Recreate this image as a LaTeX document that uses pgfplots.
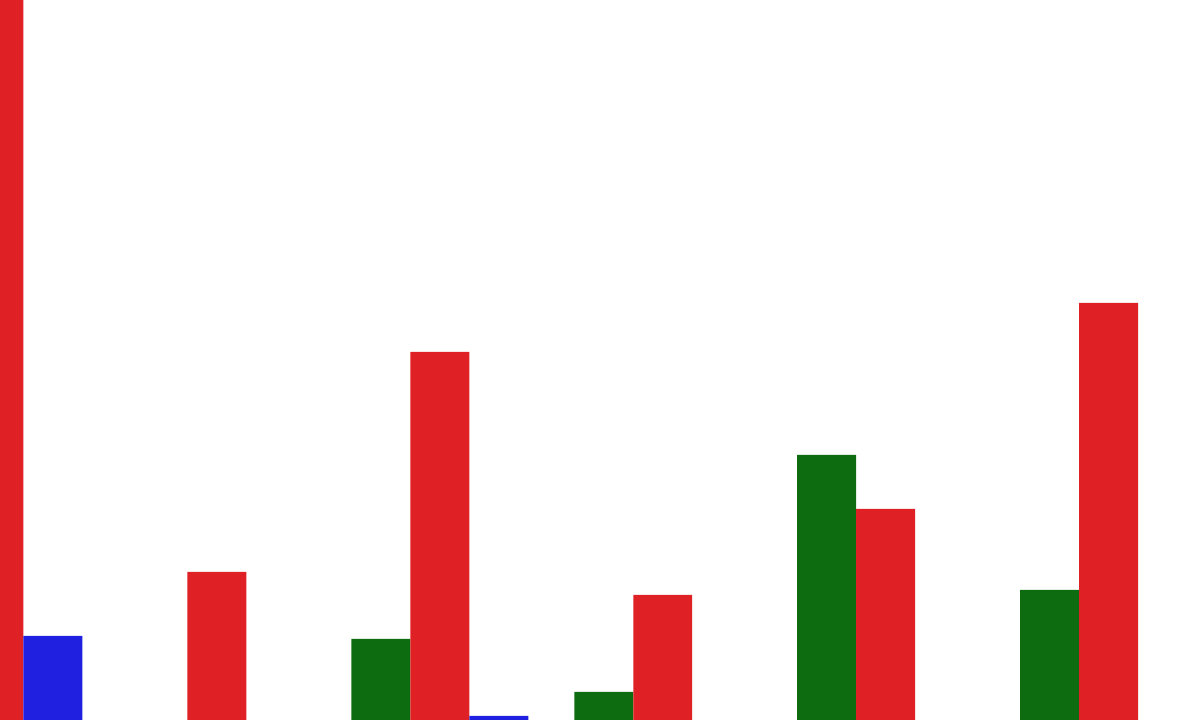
\documentclass[border=0pt]{standalone}
\usepackage{pgfplots}
\pgfplotsset{compat=1.18}
\definecolor{barred}{RGB}{223,32,36}
\definecolor{bargreen}{RGB}{14,108,16}
\definecolor{barblue}{RGB}{32,32,224}
\begin{document}
\begin{tikzpicture}
  \begin{axis}[
      scale only axis,
      width=12cm,
      height=7.2cm,
      hide axis,
      clip=true,
      xmin=0.027, xmax=5.41,
      ymin=0, ymax=72,
      ybar,
      bar width=0.2646,
    ]
    % green series (empty groups left out)
    \addplot[draw=none, fill=bargreen, bar shift=-0.2646]
      coordinates {(2,8.1) (3,2.8) (4,26.5) (5,13.0)};
    % red series
    \addplot[draw=none, fill=barred, bar shift=0]
      coordinates {(0,90) (1,14.8) (2,36.8) (3,12.5) (4,21.1) (5,41.7)};
    % blue series
    \addplot[draw=none, fill=barblue, bar shift=0.2646]
      coordinates {(0,8.4) (2,0.4)};
    \coordinate (bl) at (rel axis cs:0,0);
    \coordinate (tr) at (rel axis cs:1,1);
  \end{axis}
  \pgfresetboundingbox
  \path[use as bounding box] (bl) rectangle (tr);
\end{tikzpicture}
\end{document}
